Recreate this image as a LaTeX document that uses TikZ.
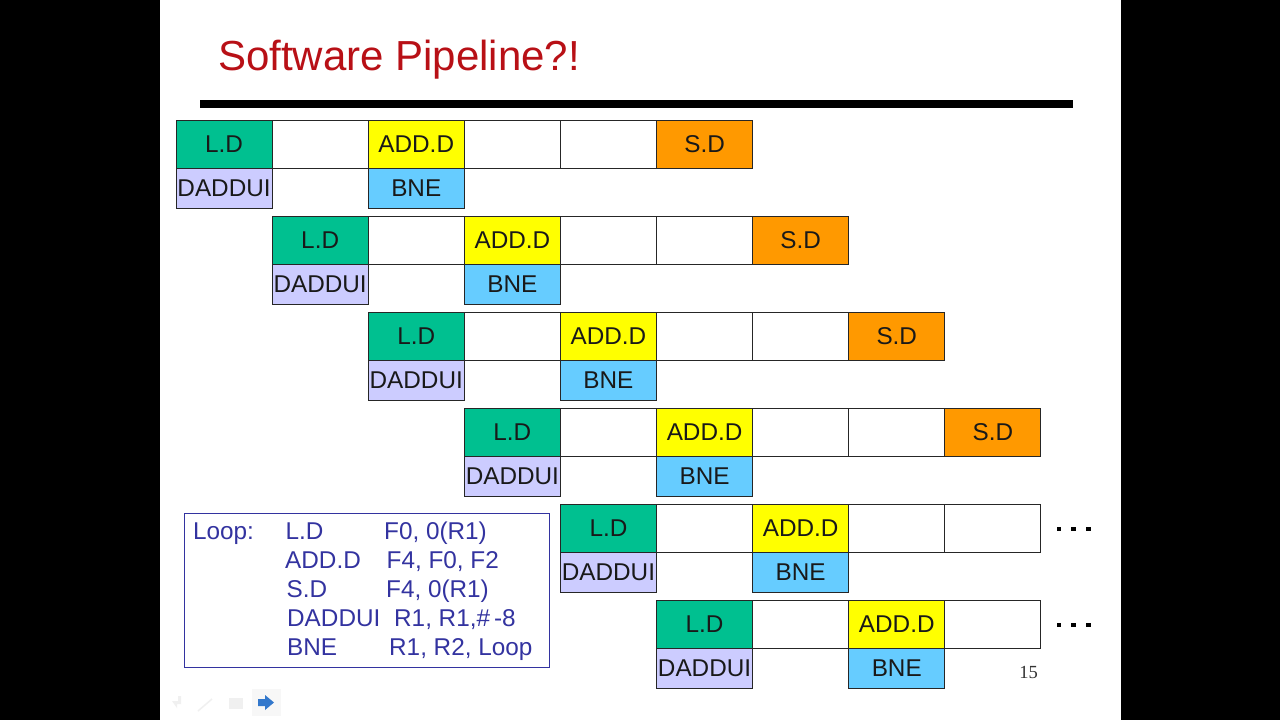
\documentclass[tikz,border=0pt]{standalone}
\usepackage{fontspec}
\setmainfont{Liberation Sans}
\newfontfamily\pagefont{Liberation Serif}
\definecolor{ldgreen}{RGB}{0,192,144}
\definecolor{addyellow}{RGB}{255,255,0}
\definecolor{sdorange}{RGB}{255,153,0}
\definecolor{daddlilac}{RGB}{204,204,255}
\definecolor{bneblue}{RGB}{102,204,255}
\definecolor{titlered}{RGB}{184,16,22}
\definecolor{loopblue}{RGB}{51,51,160}
\tikzset{
    cell/.style={draw=black!85, line width=0.9pt, minimum width=96.1pt, minimum height=48pt, outer sep=0pt,
        inner sep=0pt, font=\fontsize{24.3}{26}\selectfont, text=black!90, anchor=north west},
    lowcell/.style={cell, minimum height=40pt},
    looptext/.style={anchor=base west, inner sep=0pt, text=loopblue, font=\fontsize{24.3}{26}\selectfont},
    dot/.style={fill=black, minimum size=4.6pt, inner sep=0pt},
}
\begin{document}
\begin{tikzpicture}[x=1pt, y=-1pt]
    \useasboundingbox (0,0) rectangle (1280,720);
    \fill [black] (0,0) rectangle (1280,720);
    \fill [white] (160,0) rectangle (1121,720);
    \node [anchor=base west, inner sep=0pt, text=titlered, font=\fontsize{42}{44}\selectfont] (title) at (218,70) {Software Pipeline?!};
    \fill [black] (200,100) rectangle (1073,108);
    % rows: index / left edge / top edge / empty cells after ADD.D
    \foreach \r/\x/\y/\n in {1/176/120/2, 2/272.1/216/2, 3/368.2/312/2, 4/464.3/408/2, 5/560.4/504/2, 6/656.5/600/1} {
        \node [cell, fill=ldgreen] (ld\r) at (\x,\y) {L.D};
        \node [cell] (gap\r) at (ld\r.north east) {};
        \node [cell, fill=addyellow] (add\r) at (gap\r.north east) {ADD.D};
        \node [cell] (wait\r) at (add\r.north east) {};
        \ifnum\n=2
            \node [cell] (more\r) at (wait\r.north east) {};
        \fi
        \node [lowcell, fill=daddlilac] (dadd\r) at (ld\r.south west) {DADDUI};
        \node [lowcell, fill=bneblue] (bne\r) at (add\r.south west) {BNE};
    }
    \foreach \r in {1,2,3,4} {
        \node [cell, fill=sdorange] (sd\r) at (more\r.north east) {S.D};
    }
    % the dots
    \foreach \i/\y in {1/529, 2/625} {
        \node [dot] (dota\i) at (1059,\y) {};
        \node [dot] (dotb\i) at (1073.5,\y) {};
        \node [dot] (dotc\i) at (1088.5,\y) {};
    }
    % the loop
    \draw [draw=loopblue, line width=0.8pt] (184,513) rectangle (549,667);
    \node [looptext] (loop) at (193,539) {Loop:};
    \node [looptext] (ins1) at (285.5,539) {L.D};
    \node [looptext] (ops1) at (384,539) {F0, 0(R1)};
    \node [looptext] (ins2) at (285,568) {ADD.D};
    \node [looptext] (ops2) at (386.5,568) {F4, F0, F2};
    \node [looptext] (ins3) at (286.5,597) {S.D};
    \node [looptext] (ops3) at (386,597) {F4, 0(R1)};
    \node [looptext] (ins4) at (287,626) {DADDUI};
    \node [looptext] (ops4) at (394,626) {R1, R1,\#\,-8};
    \node [looptext] (ins5) at (287,655) {BNE};
    \node [looptext] (ops5) at (389,655) {R1, R2, Loop};
    \node [anchor=base, inner sep=0pt, text=black!80, font=\pagefont\fontsize{18.5}{20}\selectfont] (page) at (1028.5,678) {15};
    % slide show buttons
    \fill [black!3] (252,689) rectangle (281,716);
    \fill [blue!55!cyan!75!black!80] (258,699) -- (265,699) -- (265,695) -- (274,702.5) -- (265,710) -- (265,706) -- (258,706) -- cycle;
    \fill [black!6] (229,698) rectangle (243,709);
    \draw [black!6, line width=1.5pt] (198,711) -- (212,699);
    \fill [black!6] (172,701) -- (178,701) -- (178,696) -- (181,696) -- (181,704) -- (177,704) -- (177,708) -- cycle;
\end{tikzpicture}
\end{document}
